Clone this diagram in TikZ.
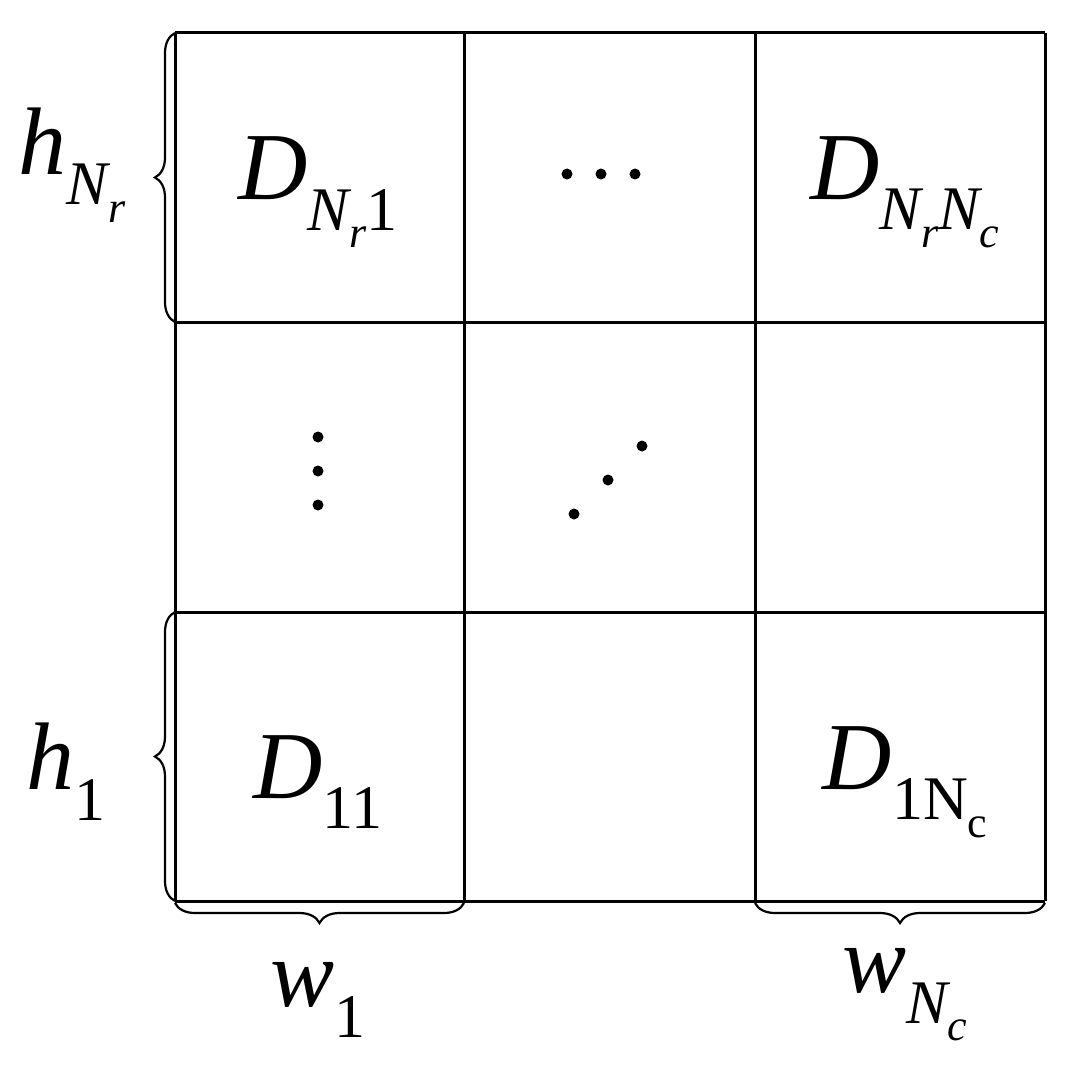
\documentclass[tikz,border=0pt]{standalone}
\usepackage{fontspec}
\setmainfont{Liberation Serif}
\usetikzlibrary{decorations.pathreplacing}
\newcommand\bigfnt{\fontsize{96}{96}\selectfont\itshape}
\newcommand\sbx[1]{\raisebox{-0.32em}{\fontsize{62}{62}\selectfont #1}}
\newcommand\ssb[1]{\raisebox{-0.28em}{\fontsize{44}{44}\selectfont #1}}
\begin{document}
\begin{tikzpicture}[x=1pt,y=-1pt,
  grid/.style={line width=3pt},
  br/.style={decorate,decoration={brace,amplitude=20pt},line width=2.2pt},
  dt/.style={fill=black},
  lab/.style={inner sep=0pt,font=\bigfnt}]
\useasboundingbox (0,0) rectangle (1073,1086);
\foreach \x in {175,464,755,1045} \draw[grid] (\x,33) -- (\x,901);
\foreach \y in {33,322,612,901} \draw[grid] (175,\y) -- (1045,\y);
% braces
\coordinate (a1) at (175,322); \coordinate (a2) at (175,33);
\coordinate (b1) at (175,901); \coordinate (b2) at (175,612);
\coordinate (c1) at (464,903); \coordinate (c2) at (175,903);
\coordinate (e1) at (1045,903); \coordinate (e2) at (755,903);
\draw[br] (a1) -- (a2);
\draw[br] (b1) -- (b2);
\draw[br] (c1) -- (c2);
\draw[br] (e1) -- (e2);
% dots
\foreach \p in {(567,174),(601,174),(635,174),(318,437),(318,471),(318,505),(574,514),(608,480),(642,446)}
  \fill[dt] \p circle (5.5);
% labels
\node[lab] (d1) at (318,192) {D\sbx{N\ssb{r}\upshape 1}};
\node[lab] (d2) at (905,192) {D\sbx{N\ssb{r}N\ssb{c}}};
\node[lab] (d3) at (318,782) {D\sbx{\upshape 11}};
\node[lab] (d4) at (905,782) {D\sbx{\upshape 1N\ssb{c}}};
\node[lab] (h1) at (72,165) {h\sbx{N\ssb{r}}};
\node[lab] (h2) at (66,772) {h\sbx{\upshape 1}};
\node[lab] (w1) at (318,1000) {w\sbx{\upshape 1}};
\node[lab] (w2) at (905,995) {w\sbx{N\ssb{c}}};
\end{tikzpicture}
\end{document}
